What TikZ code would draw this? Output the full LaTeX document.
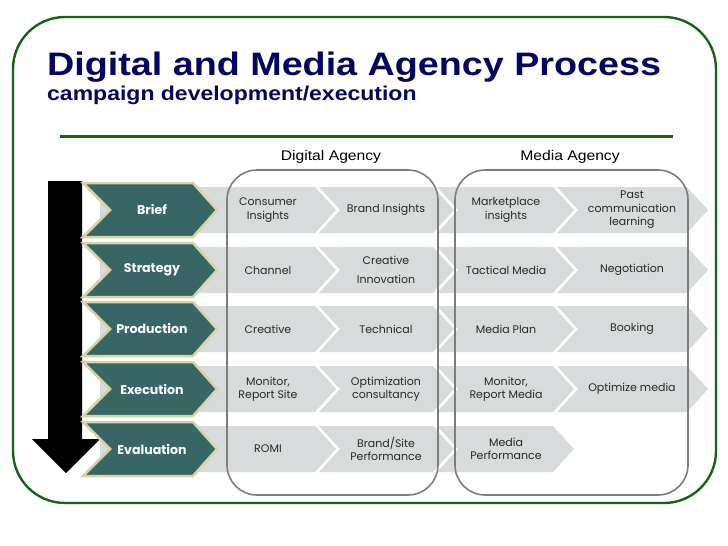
\documentclass[tikz,border=0pt]{standalone}
\usepackage{fontspec}
\setmainfont{Liberation Sans}
\newfontfamily\gothic{Poppins}
\definecolor{framegreen}{RGB}{22,100,22}
\definecolor{navy}{RGB}{5,5,100}
\definecolor{tealfill}{RGB}{56,102,100}
\definecolor{khaki}{RGB}{214,211,168}
\definecolor{band}{RGB}{216,219,219}
\definecolor{boxline}{RGB}{125,125,125}
\definecolor{itemtext}{RGB}{40,40,40}
\tikzset{
  stagebox/.style={fill=tealfill, draw=khaki, line width=2.5pt, line join=miter},
  bandseg/.style={fill=band, draw=none},
  stagelabel/.style={text=white, font=\gothic\bfseries\fontsize{12.6}{14}\selectfont},
  itemlabel/.style={text=itemtext, align=center, font=\gothic\fontsize{11}{13.5}\selectfont},
  agencybox/.style={draw=boxline, line width=1.6pt, rounded corners=30pt},
  agencylabel/.style={text=black},
}
\begin{document}
\begin{tikzpicture}[x=1pt,y=-1pt]
\useasboundingbox (0,0) rectangle (728,546);
\fill[white] (0,0) rectangle (728,546);

% frame
\draw[framegreen, line width=2.4pt, rounded corners=52pt] (13,17) rectangle (716,503);

% title
\node[anchor=base west, inner sep=0, text=navy] (title) at (47,75)
  {\scalebox{1.16}[1]{\fontsize{32.5}{36}\selectfont\bfseries Digital and Media Agency Process}};
\node[anchor=base west, inner sep=0, text=navy] (subtitle) at (47,100)
  {\scalebox{1.15}[1]{\fontsize{20}{24}\selectfont\bfseries campaign development/execution}};
\coordinate (ruleL) at (60,136);
\coordinate (ruleR) at (673,136);
\draw[framegreen, line width=3pt] (ruleL) -- (ruleR);

% agency labels
\node[agencylabel] (digital) at (331,157) {\scalebox{1.12}[1]{\fontsize{14}{16}\selectfont Digital Agency}};
\node[agencylabel] (media) at (570,157) {\scalebox{1.12}[1]{\fontsize{14}{16}\selectfont Media Agency}};

% black arrow
\fill[black] (48,181) -- (82,181) -- (82,439) -- (100,439) -- (66,473) -- (32,439) -- (48,439) -- cycle;

% rows
\foreach \c/\last in {210/687,270/687,329/687,389/687,449/553}{
  \fill[bandseg] (100,\c-23) -- (315,\c-23) -- (336,\c) -- (315,\c+23) -- (100,\c+23) -- cycle;
  \fill[bandseg] (319,\c-23) -- (433,\c-23) -- (454,\c) -- (433,\c+23) -- (319,\c+23) -- (340,\c) -- cycle;
  \fill[bandseg] (437,\c-23) -- (553,\c-23) -- (574,\c) -- (553,\c+23) -- (437,\c+23) -- (458,\c) -- cycle;
  \ifnum\last>600
  \fill[bandseg] (557,\c-23) -- (687,\c-23) -- (708,\c) -- (687,\c+23) -- (557,\c+23) -- (578,\c) -- cycle;
  \fi
  \draw[stagebox] (83,\c-27) -- (193,\c-27) -- (217,\c) -- (193,\c+27) -- (83,\c+27) -- (110,\c) -- cycle;
}

% stage labels
\node[stagelabel] (brief) at (152,210) {Brief};
\node[stagelabel] (strategy) at (152,270) {Strategy};
\node[stagelabel] (production) at (152,329) {Production};
\node[stagelabel] (execution) at (152,389) {Execution};
\node[stagelabel] (evaluation) at (152,449) {Evaluation};

% items
\node[itemlabel] (a1) at (268,210) {Consumer\\Insights};
\node[itemlabel] (b1) at (386,210) {Brand Insights};
\node[itemlabel] (c1) at (506,210) {Marketplace\\insights};
\node[itemlabel] (d1) at (632,210) {Past\\communication\\learning};

\node[itemlabel] (a2) at (268,270) {Channel};
\node[itemlabel, font=\gothic\fontsize{11}{18.5}\selectfont] (b2) at (386,270) {Creative\\Innovation};
\node[itemlabel] (c2) at (506,270) {Tactical Media};
\node[itemlabel] (d2) at (632,270) {Negotiation};

\node[itemlabel] (a3) at (268,329) {Creative};
\node[itemlabel] (b3) at (386,329) {Technical};
\node[itemlabel] (c3) at (506,329) {Media Plan};
\node[itemlabel] (d3) at (632,329) {Booking};

\node[itemlabel] (a4) at (268,389) {Monitor,\\Report Site};
\node[itemlabel] (b4) at (386,389) {Optimization\\consultancy};
\node[itemlabel] (c4) at (506,389) {Monitor,\\Report Media};
\node[itemlabel] (d4) at (632,389) {Optimize media};

\node[itemlabel] (a5) at (268,449) {ROMI};
\node[itemlabel] (b5) at (386,449) {Brand/Site\\Performance};
\node[itemlabel] (c5) at (506,449) {Media\\Performance};

% agency boxes
\draw[agencybox] (227,170) rectangle (438,495);
\draw[agencybox] (455,170) rectangle (688,495);
\end{tikzpicture}
\end{document}
